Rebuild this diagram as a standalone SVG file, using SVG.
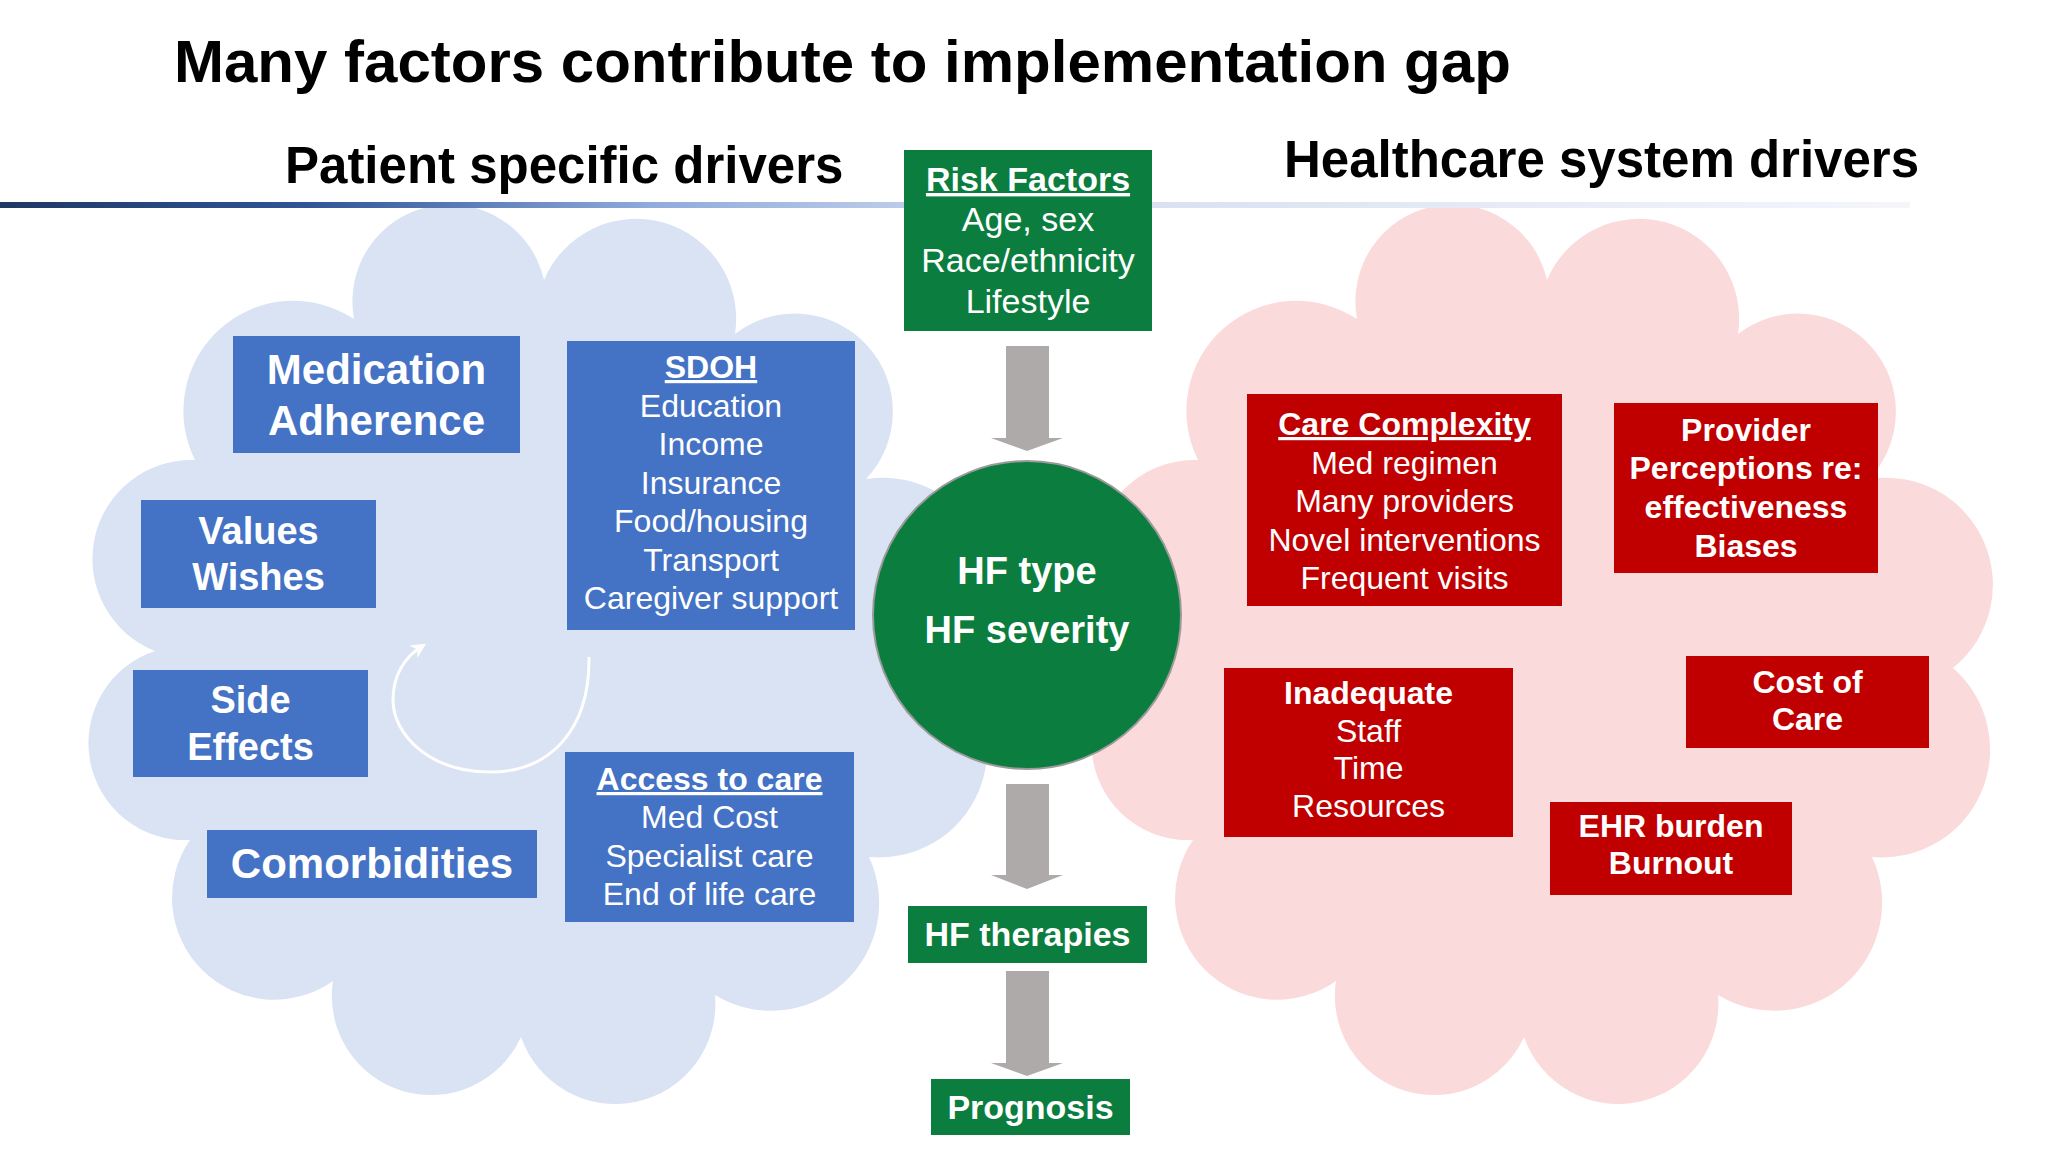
<svg xmlns="http://www.w3.org/2000/svg" width="2048" height="1152" viewBox="0 0 2048 1152">
<style>
.txt{font-family:"Liberation Sans",Arial,Helvetica,sans-serif}
.w{fill:#fff;text-anchor:middle}
.bd{font-weight:bold}
.ul{text-decoration:underline}
.blue{fill:#4472C4}
.red{fill:#C00000}
.green{fill:#0B7D3E}
.arr{fill:#AEAAAA}
</style>
<defs>
<linearGradient id="hdr" x1="0" y1="0" x2="1910" y2="0" gradientUnits="userSpaceOnUse">
<stop offset="0" stop-color="#1F3864"/>
<stop offset="0.16" stop-color="#2F5597"/>
<stop offset="0.34" stop-color="#8FAADC"/>
<stop offset="0.55" stop-color="#D6DEF0"/>
<stop offset="1" stop-color="#F4F6FB"/>
</linearGradient>
<path id="cloud" d="M195 460 A110 110 0 0 1 354 319 A97 97 0 0 1 544 280 A100 100 0 0 1 735 334 A98 98 0 0 1 866 479 A107 107 0 0 1 950 668 A108 108 0 0 1 869 857 A108 108 0 0 1 715 995 A100 100 0 0 1 521 1037 A99 99 0 0 1 333 981 A102 102 0 0 1 190 840 A97 97 0 0 1 155 651 A99 99 0 0 1 195 460 Z"/>
<marker id="ah" viewBox="0 0 10 10" refX="6" refY="5" markerWidth="5" markerHeight="5" orient="auto" markerUnits="strokeWidth">
<path d="M0 0 L10 5 L0 10 L3 5 Z" fill="#fff"/>
</marker>
</defs>
<rect width="2048" height="1152" fill="#fff"/>
<g id="cloud-patient"><use href="#cloud" fill="#DAE3F3"/></g>
<g id="cloud-system"><use href="#cloud" transform="translate(1003 0)" fill="#FBDADB"/></g>
<rect id="header-line" x="0" y="202" width="1910" height="6" fill="url(#hdr)"/>
<text id="title" class="txt bd" x="174" y="82" font-size="60">Many factors contribute to implementation gap</text>
<text id="patient-heading" class="txt bd" x="285" y="183" font-size="51">Patient specific drivers</text>
<text id="system-heading" class="txt bd" x="1284" y="177" font-size="51">Healthcare system drivers</text>

<g id="connectors">
<polygon class="arr" points="1006,346 1049,346 1049,438 1063,438 1027,451 991,438 1006,438"/>
<polygon class="arr" points="1006,784 1049,784 1049,875 1063,875 1027,889 991,875 1006,875"/>
<polygon class="arr" points="1006,971 1049,971 1049,1063 1063,1063 1027,1076 991,1063 1006,1063"/>
<path d="M589 657 C590 730 550 772 490 772 C430 772 393 735 393 700 C393 675 405 657 421 647" fill="none" stroke="#fff" stroke-width="3" marker-end="url(#ah)"/>
</g>

<g id="medication-adherence">
<rect class="blue" x="233" y="336" width="287" height="117"/>
<text class="txt w bd" font-size="42"><tspan x="376.5" y="384">Medication</tspan><tspan x="376.5" y="435">Adherence</tspan></text>
</g>
<g id="sdoh">
<rect class="blue" x="567" y="341" width="288" height="289"/>
<text class="txt w" font-size="32"><tspan class="bd ul" x="711" y="378">SDOH</tspan><tspan x="711" y="417">Education</tspan><tspan x="711" y="455">Income</tspan><tspan x="711" y="494">Insurance</tspan><tspan x="711" y="532">Food/housing</tspan><tspan x="711" y="571">Transport</tspan><tspan x="711" y="609">Caregiver support</tspan></text>
</g>
<g id="values-wishes">
<rect class="blue" x="141" y="500" width="235" height="108"/>
<text class="txt w bd" font-size="38"><tspan x="258.5" y="544">Values</tspan><tspan x="258.5" y="590">Wishes</tspan></text>
</g>
<g id="side-effects">
<rect class="blue" x="133" y="670" width="235" height="107"/>
<text class="txt w bd" font-size="38"><tspan x="250.5" y="713">Side</tspan><tspan x="250.5" y="760">Effects</tspan></text>
</g>
<g id="comorbidities">
<rect class="blue" x="207" y="830" width="330" height="68"/>
<text class="txt w bd" font-size="42" x="372" y="878">Comorbidities</text>
</g>
<g id="access-to-care">
<rect class="blue" x="565" y="752" width="289" height="170"/>
<text class="txt w" font-size="32"><tspan class="bd ul" x="709.5" y="790">Access to care</tspan><tspan x="709.5" y="828">Med Cost</tspan><tspan x="709.5" y="867">Specialist care</tspan><tspan x="709.5" y="905">End of life care</tspan></text>
</g>

<g id="risk-factors">
<rect class="green" x="904" y="150" width="248" height="181"/>
<text class="txt w" font-size="34"><tspan class="bd ul" x="1028" y="191">Risk Factors</tspan><tspan x="1028" y="231">Age, sex</tspan><tspan x="1028" y="272">Race/ethnicity</tspan><tspan x="1028" y="313">Lifestyle</tspan></text>
</g>
<g id="hf-type">
<circle class="green" cx="1027" cy="615" r="154" stroke="#9A9A9A" stroke-width="2"/>
<text class="txt w bd" font-size="38"><tspan x="1027" y="584">HF type</tspan><tspan x="1027" y="643">HF severity</tspan></text>
</g>
<g id="hf-therapies">
<rect class="green" x="908" y="906" width="239" height="57"/>
<text class="txt w bd" font-size="34" x="1027.5" y="946">HF therapies</text>
</g>
<g id="prognosis">
<rect class="green" x="931" y="1079" width="199" height="56"/>
<text class="txt w bd" font-size="34" x="1030.5" y="1119">Prognosis</text>
</g>

<g id="care-complexity">
<rect class="red" x="1247" y="394" width="315" height="212"/>
<text class="txt w" font-size="32"><tspan class="bd ul" x="1404.5" y="435">Care Complexity</tspan><tspan x="1404.5" y="474">Med regimen</tspan><tspan x="1404.5" y="512">Many providers</tspan><tspan x="1404.5" y="551">Novel interventions</tspan><tspan x="1404.5" y="589">Frequent visits</tspan></text>
</g>
<g id="provider-perceptions">
<rect class="red" x="1614" y="403" width="264" height="170"/>
<text class="txt w bd" font-size="32"><tspan x="1746" y="441">Provider</tspan><tspan x="1746" y="479">Perceptions re:</tspan><tspan x="1746" y="518">effectiveness</tspan><tspan x="1746" y="557">Biases</tspan></text>
</g>
<g id="inadequate">
<rect class="red" x="1224" y="668" width="289" height="169"/>
<text class="txt w" font-size="32"><tspan class="bd" x="1368.5" y="704">Inadequate</tspan><tspan x="1368.5" y="742">Staff</tspan><tspan x="1368.5" y="779">Time</tspan><tspan x="1368.5" y="817">Resources</tspan></text>
</g>
<g id="cost-of-care">
<rect class="red" x="1686" y="656" width="243" height="92"/>
<text class="txt w bd" font-size="32"><tspan x="1807.5" y="693">Cost of</tspan><tspan x="1807.5" y="730">Care</tspan></text>
</g>
<g id="ehr-burden">
<rect class="red" x="1550" y="802" width="242" height="93"/>
<text class="txt w bd" font-size="32"><tspan x="1671" y="837">EHR burden</tspan><tspan x="1671" y="874">Burnout</tspan></text>
</g>
</svg>
